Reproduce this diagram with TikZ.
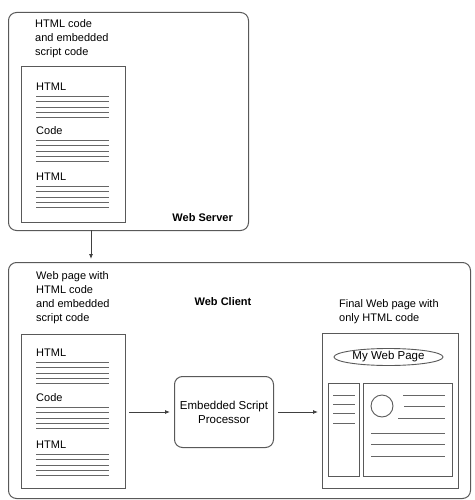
\documentclass[tikz,border=0pt]{standalone}
\usepackage{fontspec}
\setmainfont{Liberation Sans}
\usetikzlibrary{arrows.meta, positioning, shapes.geometric}

\tikzset{
  panel/.style={draw=black!65, line width=1pt, rounded corners=8pt, inner sep=0pt, anchor=north west},
  page/.style={draw=black!65, line width=0.9pt, inner sep=0pt, anchor=north west},
  lbl/.style={align=left, inner sep=0pt, anchor=north west, font=\fontsize{11}{14}\selectfont},
  doclbl/.style={inner sep=0pt, anchor=west, font=\fontsize{11}{13}\selectfont},
  rule/.style={draw=black!60, line width=0.8pt},
  flow/.style={->, draw=black!75, line width=0.8pt}
}

\begin{document}
\begin{tikzpicture}[x=1pt, y=-1pt, >={Latex[length=5pt,width=4pt]}]
  \useasboundingbox (0,0) rectangle (474,500);

  % server side
  \node[panel, minimum width=240pt, minimum height=218pt] (server) at (8,12) {};
  \node[lbl] (srvtxt) at (35,19) {HTML code\\and embedded\\script code};
  \node[page, minimum width=104pt, minimum height=156pt] (srvdoc) at (21,66) {};
  \foreach \y/\t [count=\i] in {87/HTML, 131/Code, 177/HTML} {
    \node[doclbl] (slbl\i) at (36,\y) {\t};
    \foreach \k in {0,...,4}
      \draw[rule] (36,\y+9.5+\k*5.3) -- (109,\y+9.5+\k*5.3);
  }
  \node[inner sep=0pt, anchor=east, font=\fontsize{11}{13}\selectfont\bfseries] (srvname) at (233,218) {Web Server};

  % client side
  \node[panel, minimum width=462pt, minimum height=236pt] (client) at (8,262) {};
  \node[lbl] (clitxt) at (36,271) {Web page with\\HTML code\\and embedded\\script code};
  \node[inner sep=0pt, font=\fontsize{11}{13}\selectfont\bfseries] (cliname) at (223,302) {Web Client};
  \node[page, minimum width=104pt, minimum height=154pt] (clidoc) at (21,334) {};
  \foreach \y/\t [count=\i] in {353/HTML, 398/Code, 445/HTML} {
    \node[doclbl] (clbl\i) at (36,\y) {\t};
    \foreach \k in {0,...,4}
      \draw[rule] (36,\y+9.5+\k*5.3) -- (109,\y+9.5+\k*5.3);
  }

  \node[panel, minimum width=99pt, minimum height=71pt, align=center,
        font=\fontsize{11.5}{14}\selectfont] (proc) at (174,376) {Embedded Script\\Processor};

  % final page
  \node[lbl] (fintxt) at (339,299) {Final Web page with\\only HTML code};
  \node[page, minimum width=136pt, minimum height=155pt] (final) at (322,333) {};
  \node[ellipse, draw=black!65, line width=0.9pt, minimum width=109pt, minimum height=17pt,
        inner sep=0pt, font=\fontsize{11.5}{13}\selectfont] (title) at (388.5,357) {My Web Page};
  \node[page, minimum width=31pt, minimum height=93pt] (sidebar) at (328,383) {};
  \node[page, minimum width=89pt, minimum height=93pt] (content) at (363,383) {};
  \foreach \y in {395,404,413,423}
    \draw[rule] (333,\y) -- (355,\y);
  \node[circle, draw=black!65, line width=0.9pt, minimum size=22pt, inner sep=0pt] (pic) at (382,406) {};
  \draw[rule] (403,395) -- (445,395);
  \draw[rule] (404,406) -- (445,406);
  \draw[rule] (398,418) -- (445,418);
  \foreach \y in {433,444,456}
    \draw[rule] (371,\y) -- (445,\y);

  % connectors
  \coordinate (drop) at (91,230);
  \draw[flow, shorten >=3pt] (drop) -- (drop |- client.north);
  \draw[flow, shorten <=3pt, shorten >=4pt] (clidoc.east |- proc.west) -- (proc.west);
  \draw[flow, shorten <=4pt, shorten >=4pt] (proc.east) -- (final.west |- proc.east);
\end{tikzpicture}
\end{document}
